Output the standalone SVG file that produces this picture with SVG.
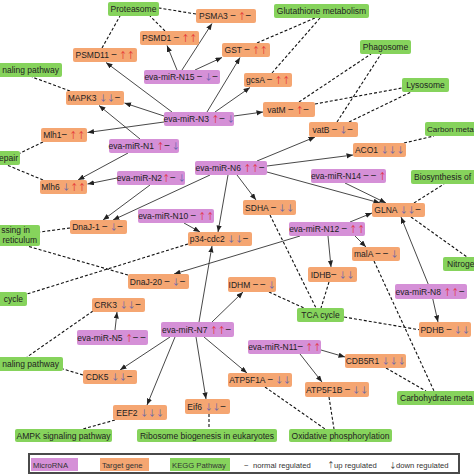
<svg xmlns="http://www.w3.org/2000/svg" width="474" height="474" viewBox="0 0 474 474">
<defs>
<marker id="ah" markerUnits="userSpaceOnUse" markerWidth="7" markerHeight="6" refX="6.5" refY="2.6" orient="auto">
<path d="M0,0 L6.5,2.6 L0,5.2 z" fill="#222"/>
</marker>
</defs>
<style>
text{font-family:"Liberation Sans",Arial,sans-serif;font-size:8.5px;fill:#222;text-anchor:middle}
.g rect{fill:#86d35c}
.o rect{fill:#f5a672}
.p rect{fill:#d590d7}
rect{rx:2px;ry:2px}
.s{font-family:"Noto Sans CJK SC",sans-serif;letter-spacing:-0.6px}
.u{fill:#e3242b}
.d{fill:#5a5eab}
.n{fill:#222;font-family:"Liberation Sans",Arial,sans-serif;font-size:10px;letter-spacing:1.6px}
.a line{stroke:#333;stroke-width:0.9;marker-end:url(#ah)}
.k line{stroke:#111;stroke-width:1.1;stroke-dasharray:3 2}
.l text{font-size:7.7px;text-anchor:start;fill:#333}
</style>
<rect width="474" height="474" fill="#fff"/>
<g id="connectors">
<g class="k">
<line x1="102" y1="48" x2="120" y2="16"/>
<line x1="165" y1="31" x2="150" y2="16"/>
<line x1="196" y1="14" x2="159" y2="8"/>
<line x1="257" y1="43" x2="315" y2="18"/>
<line x1="272" y1="73" x2="320" y2="18"/>
<line x1="299" y1="102" x2="371" y2="54"/>
<line x1="315" y1="104" x2="402" y2="88"/>
<line x1="337" y1="122" x2="381" y2="54"/>
<line x1="349" y1="122" x2="411" y2="92"/>
<line x1="404" y1="143" x2="434" y2="136"/>
<line x1="70" y1="91" x2="32" y2="77"/>
<line x1="43" y1="142" x2="12" y2="157"/>
<line x1="43" y1="180" x2="7" y2="165"/>
<line x1="70" y1="228" x2="40" y2="232"/>
<line x1="128" y1="275" x2="27" y2="246"/>
<line x1="188" y1="244" x2="27" y2="294"/>
<line x1="270" y1="215" x2="316" y2="308"/>
<line x1="269" y1="292" x2="304" y2="308"/>
<line x1="329" y1="282" x2="321" y2="308"/>
<line x1="421" y1="330" x2="344" y2="317"/>
<line x1="374" y1="261" x2="434" y2="391"/>
<line x1="414" y1="203" x2="444" y2="184"/>
<line x1="411" y1="217" x2="467" y2="257"/>
<line x1="386" y1="368" x2="426" y2="391"/>
<line x1="329" y1="397" x2="334" y2="429"/>
<line x1="265" y1="387" x2="325" y2="429"/>
<line x1="209" y1="414" x2="209" y2="429"/>
<line x1="115" y1="420" x2="83" y2="429"/>
<line x1="83" y1="375" x2="63" y2="369"/>
<line x1="93" y1="311" x2="27" y2="357"/>
</g>
<g class="a">
<line x1="177" y1="70" x2="167" y2="45.5"/>
<line x1="182" y1="70" x2="212" y2="23.5"/>
<line x1="195" y1="70" x2="222" y2="57.5"/>
<line x1="172" y1="112" x2="106" y2="62.5"/>
<line x1="164" y1="116" x2="124.5" y2="103"/>
<line x1="164" y1="122" x2="87.5" y2="132.5"/>
<line x1="207" y1="112" x2="240" y2="57.5"/>
<line x1="215" y1="112" x2="250" y2="87.5"/>
<line x1="234" y1="116" x2="263" y2="112"/>
<line x1="140" y1="139" x2="99" y2="105.5"/>
<line x1="128" y1="153" x2="78" y2="180"/>
<line x1="117" y1="178" x2="87.5" y2="184"/>
<line x1="150" y1="185" x2="103" y2="220"/>
<line x1="210" y1="175" x2="113" y2="220"/>
<line x1="228" y1="175" x2="218" y2="232"/>
<line x1="184" y1="223" x2="200" y2="232"/>
<line x1="237" y1="175" x2="256" y2="200"/>
<line x1="257" y1="161" x2="315" y2="137"/>
<line x1="267" y1="166" x2="353" y2="155"/>
<line x1="267" y1="172" x2="380" y2="203"/>
<line x1="345" y1="183" x2="386" y2="203"/>
<line x1="350" y1="222" x2="372" y2="213"/>
<line x1="355" y1="236" x2="366" y2="247"/>
<line x1="328" y1="236" x2="331" y2="267"/>
<line x1="300" y1="236" x2="174" y2="274"/>
<line x1="431" y1="291" x2="401" y2="217"/>
<line x1="431" y1="291" x2="438" y2="322"/>
<line x1="199" y1="322" x2="212" y2="246"/>
<line x1="212" y1="322" x2="243" y2="292"/>
<line x1="170" y1="337" x2="120" y2="370"/>
<line x1="175" y1="337" x2="147" y2="405"/>
<line x1="196" y1="337" x2="206" y2="399"/>
<line x1="204" y1="337" x2="247" y2="373"/>
<line x1="115" y1="330" x2="117" y2="312"/>
<line x1="321" y1="350" x2="345" y2="357"/>
<line x1="300" y1="354" x2="322" y2="382"/>
</g>
</g>
<g id="pathways" class="g">
<g id="proteasome"><rect x="108" y="2" width="51" height="14"/><text x="133.5" y="12">Proteasome</text></g>
<g id="glutathione"><rect x="274" y="4" width="95" height="14"/><text x="321.5" y="14">Glutathione metabolism</text></g>
<g id="mapk-top"><rect x="-5" y="63" width="67" height="14"/><text x="59" y="73" style="text-anchor:end">naling pathway</text></g>
<g id="repair"><rect x="-5" y="151" width="25" height="14"/><text x="18" y="161" style="text-anchor:end">epair</text></g>
<g id="er"><rect x="-5" y="225" width="45" height="21"/><text x="30" y="233" style="text-anchor:end">ssing in</text><text x="37" y="243" style="text-anchor:end">reticulum</text></g>
<g id="cellcycle"><rect x="-5" y="292" width="32" height="14"/><text x="23" y="302" style="text-anchor:end">cycle</text></g>
<g id="signal-low"><rect x="-5" y="357" width="68" height="14"/><text x="59" y="367" style="text-anchor:end">naling pathway</text></g>
<g id="phagosome"><rect x="360" y="40" width="51" height="14"/><text x="385.5" y="50">Phagosome</text></g>
<g id="lysosome"><rect x="402" y="78" width="47" height="14"/><text x="425.5" y="88">Lysosome</text></g>
<g id="carbon"><rect x="425" y="122" width="55" height="14"/><text x="427" y="132" style="text-anchor:start;font-size:8.1px">Carbon meta</text></g>
<g id="biosynthesis"><rect x="411" y="170" width="70" height="14"/><text x="414" y="180" style="text-anchor:start">Biosynthesis of</text></g>
<g id="nitrogen"><rect x="443" y="257" width="40" height="14"/><text x="447" y="267" style="text-anchor:start">Nitroge</text></g>
<g id="tca"><rect x="297" y="308" width="47" height="14"/><text x="320.5" y="318">TCA cycle</text></g>
<g id="carbohydrate"><rect x="397" y="391" width="80" height="14"/><text x="400" y="401" style="text-anchor:start">Carbohydrate meta</text></g>
<g id="oxphos"><rect x="289" y="429" width="103" height="13"/><text x="340.5" y="438.5">Oxidative phosphorylation</text></g>
<g id="ribosome"><rect x="137" y="429" width="140" height="13"/><text x="207" y="438.5">Ribosome biogenesis in eukaryotes</text></g>
<g id="ampk"><rect x="15" y="429" width="97" height="13"/><text x="63.5" y="438.5">AMPK signaling pathway</text></g>
</g>
<g id="genes" class="o">
<g id="PSMA3"><rect x="196" y="9" width="60" height="14"/><text x="226" y="19">PSMA3 <tspan class="s"><tspan class="n">−</tspan><tspan class="u">↑</tspan><tspan class="n">−</tspan></tspan></text></g>
<g id="PSMD11"><rect x="73" y="48" width="64" height="14"/><text x="105" y="58">PSMD11 <tspan class="s"><tspan class="n">−</tspan><tspan class="u">↑↑</tspan></tspan></text></g>
<g id="PSMD1"><rect x="140" y="31" width="59" height="14"/><text x="169.5" y="41">PSMD1 <tspan class="s"><tspan class="n">−</tspan><tspan class="u">↑↑</tspan></tspan></text></g>
<g id="GST"><rect x="222" y="43" width="48" height="14"/><text x="246" y="53">GST <tspan class="s"><tspan class="n">−</tspan><tspan class="u">↑↑</tspan></tspan></text></g>
<g id="gcsA"><rect x="244" y="73" width="48" height="14"/><text x="268" y="83">gcsA <tspan class="s"><tspan class="n">−</tspan><tspan class="u">↑↑</tspan></tspan></text></g>
<g id="vatM"><rect x="263" y="102" width="52" height="15"/><text x="289" y="112.5">vatM <tspan class="s"><tspan class="n">−</tspan><tspan class="u">↑</tspan><tspan class="n">−</tspan></tspan></text></g>
<g id="vatB"><rect x="309" y="122" width="49" height="15"/><text x="333.5" y="132.5">vatB <tspan class="s"><tspan class="n">−</tspan><tspan class="d">↓</tspan><tspan class="n">−</tspan></tspan></text></g>
<g id="ACO1"><rect x="353" y="143" width="53" height="14"/><text x="379.5" y="153">ACO1 <tspan class="s"><tspan class="d">↓↓↓</tspan></tspan></text></g>
<g id="MAPK3"><rect x="66" y="91" width="58" height="14"/><text x="95" y="101">MAPK3 <tspan class="s"><tspan class="d">↓↓</tspan><tspan class="n">−</tspan></tspan></text></g>
<g id="Mlh1"><rect x="41" y="128" width="46" height="14"/><text x="64" y="138">Mlh1<tspan class="s"><tspan class="n">−</tspan><tspan class="u">↑↑</tspan></tspan></text></g>
<g id="Mlh6"><rect x="40" y="180" width="47" height="14"/><text x="63.5" y="190">Mlh6 <tspan class="s"><tspan class="d">↓</tspan><tspan class="u">↑↑</tspan></tspan></text></g>
<g id="DnaJ-1"><rect x="70" y="220" width="57" height="14"/><text x="98.5" y="230">DnaJ-1 <tspan class="s"><tspan class="n">−</tspan><tspan class="d">↓</tspan><tspan class="n">−</tspan></tspan></text></g>
<g id="DnaJ-20"><rect x="128" y="274" width="61" height="15"/><text x="158.5" y="284.5">DnaJ-20 <tspan class="s"><tspan class="n">−</tspan><tspan class="d">↓</tspan><tspan class="n">−</tspan></tspan></text></g>
<g id="p34-cdc2"><rect x="188" y="232" width="64" height="14"/><text x="220" y="242">p34-cdc2 <tspan class="s"><tspan class="d">↓↓</tspan><tspan class="n">−</tspan></tspan></text></g>
<g id="SDHA"><rect x="243" y="200" width="53" height="15"/><text x="269.5" y="210.5">SDHA <tspan class="s"><tspan class="n">−</tspan><tspan class="d">↓↓</tspan></tspan></text></g>
<g id="IDHM"><rect x="228" y="277" width="48" height="15"/><text x="252" y="287.5">IDHM <tspan class="s"><tspan class="n">−−</tspan><tspan class="d">↓</tspan></tspan></text></g>
<g id="GLNA"><rect x="372" y="203" width="53" height="14"/><text x="398.5" y="213">GLNA <tspan class="s"><tspan class="d">↓↓</tspan><tspan class="n">−</tspan></tspan></text></g>
<g id="malA"><rect x="352" y="247" width="48" height="14"/><text x="376" y="257">malA <tspan class="s"><tspan class="n">−−</tspan><tspan class="d">↓</tspan></tspan></text></g>
<g id="IDHB"><rect x="308" y="267" width="49" height="15"/><text x="332.5" y="277.5">IDHB<tspan class="s"><tspan class="n">−</tspan><tspan class="d">↓↓</tspan></tspan></text></g>
<g id="PDHB"><rect x="419" y="322" width="52" height="15"/><text x="445" y="332.5">PDHB <tspan class="s"><tspan class="n">−</tspan><tspan class="d">↓↓</tspan></tspan></text></g>
<g id="CDB5R1"><rect x="345" y="354" width="61" height="14"/><text x="375.5" y="364">CDB5R1 <tspan class="s"><tspan class="d">↓↓↓</tspan></tspan></text></g>
<g id="ATP5F1B"><rect x="305" y="382" width="64" height="15"/><text x="337" y="392.5">ATP5F1B <tspan class="s"><tspan class="n">−</tspan><tspan class="d">↓↓</tspan></tspan></text></g>
<g id="ATP5F1A"><rect x="228" y="373" width="64" height="14"/><text x="260" y="383">ATP5F1A <tspan class="s"><tspan class="n">−</tspan><tspan class="d">↓↓</tspan></tspan></text></g>
<g id="Eif6"><rect x="185" y="399" width="45" height="15"/><text x="207.5" y="409.5">Eif6 <tspan class="s"><tspan class="d">↓↓</tspan><tspan class="n">−</tspan></tspan></text></g>
<g id="EEF2"><rect x="113" y="405" width="54" height="15"/><text x="140" y="415.5">EEF2 <tspan class="s"><tspan class="d">↓↓↓</tspan></tspan></text></g>
<g id="CDK5"><rect x="83" y="370" width="54" height="14"/><text x="110" y="380">CDK5 <tspan class="s"><tspan class="d">↓↓</tspan><tspan class="n">−</tspan></tspan></text></g>
<g id="CRK3"><rect x="92" y="298" width="53" height="14"/><text x="118.5" y="308">CRK3 <tspan class="s"><tspan class="d">↓↓</tspan><tspan class="n">−</tspan></tspan></text></g>
</g>
<g id="mirnas" class="p">
<g id="N15"><rect x="144" y="70" width="76" height="14"/><text x="182" y="80">eva-miR-N15 <tspan class="s"><tspan class="n">−</tspan><tspan class="d">↓</tspan><tspan class="n">−</tspan></tspan></text></g>
<g id="N3"><rect x="164" y="112" width="70" height="14"/><text x="199" y="122">eva-miR-N3 <tspan class="s"><tspan class="u">↑</tspan><tspan class="n">−</tspan><tspan class="d">↓</tspan></tspan></text></g>
<g id="N1"><rect x="109" y="139" width="70" height="14"/><text x="144" y="149">eva-miR-N1 <tspan class="s"><tspan class="u">↑</tspan><tspan class="n">−</tspan><tspan class="d">↓</tspan></tspan></text></g>
<g id="N2"><rect x="117" y="171" width="68" height="14"/><text x="151" y="181">eva-miR-N2<tspan class="s"><tspan class="u">↑</tspan><tspan class="n">−</tspan><tspan class="d">↓</tspan></tspan></text></g>
<g id="N6"><rect x="195" y="161" width="72" height="14"/><text x="231" y="171">eva-miR-N6 <tspan class="s"><tspan class="u">↑↑</tspan><tspan class="n">−</tspan></tspan></text></g>
<g id="N10"><rect x="138" y="209" width="76" height="14"/><text x="176" y="219">eva-miR-N10 <tspan class="s"><tspan class="n">−</tspan><tspan class="u">↑↑</tspan></tspan></text></g>
<g id="N14"><rect x="311" y="169" width="75" height="14"/><text x="348.5" y="179">eva-miR-N14 <tspan class="s"><tspan class="n">−−</tspan><tspan class="u">↑</tspan></tspan></text></g>
<g id="N12"><rect x="289" y="222" width="76" height="14"/><text x="327" y="232">eva-miR-N12 <tspan class="s"><tspan class="n">−</tspan><tspan class="u">↑↑</tspan></tspan></text></g>
<g id="N8"><rect x="395" y="284" width="72" height="15"/><text x="431" y="294.5">eva-miR-N8 <tspan class="s"><tspan class="u">↑↑</tspan><tspan class="n">−</tspan></tspan></text></g>
<g id="N5"><rect x="77" y="330" width="71" height="15"/><text x="112.5" y="340.5">eva-miR-N5 <tspan class="s"><tspan class="u">↑</tspan><tspan class="n">−−</tspan></tspan></text></g>
<g id="N7"><rect x="161" y="322" width="73" height="15"/><text x="197.5" y="332.5">eva-miR-N7 <tspan class="s"><tspan class="u">↑↑</tspan><tspan class="n">−</tspan></tspan></text></g>
<g id="N11"><rect x="248" y="340" width="73" height="14"/><text x="284.5" y="350">eva-miR-N11<tspan class="s"><tspan class="n">−</tspan><tspan class="u">↑↑</tspan></tspan></text></g>
</g>
<g id="legend" class="l">
<rect x="29" y="454" width="430" height="19" fill="#fff" stroke="#4a4a4a" stroke-width="2" style="rx:0;ry:0"/>
<rect x="31" y="458" width="47" height="13" fill="#d590d7" style="rx:0;ry:0"/>
<text x="33" y="467.5">MicroRNA</text>
<rect x="100" y="458" width="49" height="13" fill="#f5a672" style="rx:0;ry:0"/>
<text x="102" y="467.5">Target gene</text>
<rect x="170" y="458" width="60" height="13" fill="#86d35c" style="rx:0;ry:0"/>
<text x="172" y="467.5">KEGG Pathway</text>
<text x="244" y="467.5" class="n">−</text>
<text x="253" y="467.5">normal regulated</text>
<text x="327" y="467.5" class="u s">↑</text>
<text x="334" y="467.5">up regulated</text>
<text x="389" y="467.5" class="d s">↓</text>
<text x="396" y="467.5">down regulated</text>
</g>
</svg>
